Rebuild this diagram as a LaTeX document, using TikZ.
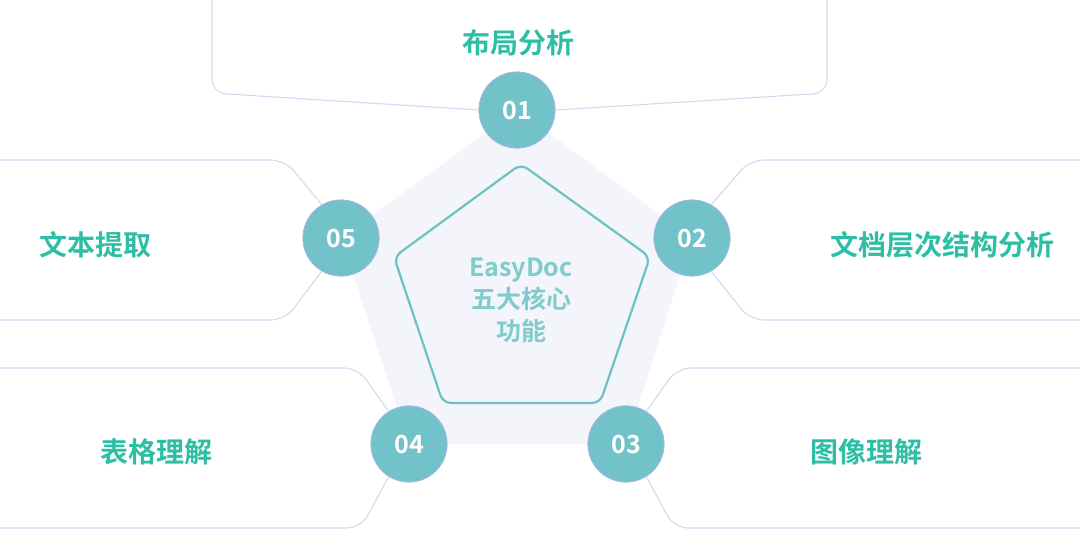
\documentclass[tikz,border=0pt]{standalone}
\usepackage{fontspec}
\setmainfont{Noto Sans CJK SC}[BoldFont={Noto Sans CJK SC Bold}]
\begin{document}
\begin{tikzpicture}[x=1pt,y=-1pt,
  box/.style={draw=lineC,line width=1.1pt,rounded corners=14pt},
  num/.style={circle,fill=numC,draw=numB,line width=0.8pt,minimum size=76pt,inner sep=0pt,text=white,font=\bfseries\fontsize{25}{25}\selectfont},
  lab/.style={text=labC,font=\bfseries\fontsize{28}{30}\selectfont}]
\definecolor{lineC}{HTML}{D8D6F0}
\definecolor{numC}{HTML}{72C2C9}
\definecolor{numB}{HTML}{A4B8E4}
\definecolor{labC}{HTML}{2DBFA5}
\definecolor{bgC}{HTML}{F4F4FB}
\definecolor{penC}{HTML}{6CC3C0}
\definecolor{midC}{HTML}{80CCCC}
\useasboundingbox (0,0) rectangle (1080,544);
\fill[bgC] (517,110) -- (692,238) -- (626,444) -- (409,444) -- (341,238) -- cycle;
\draw[penC,line width=2.2pt,rounded corners=8pt] (521,164) -- (650,257) -- (600,403) -- (443,403) -- (394,257) -- cycle;
\node[text=midC,font=\bfseries\fontsize{25}{32}\selectfont,align=center] (mid) at (521,300) {EasyDoc\\五大核心\\功能};
\node[num] (n1) at (517,110) {01};
\node[num] (n2) at (692,238) {02};
\node[num] (n3) at (626,444) {03};
\node[num] (n4) at (409,444) {04};
\node[num] (n5) at (341,238) {05};
\coordinate (t1) at (212,0); \coordinate (t2) at (827,0);
\draw[box] (t1) -- (212,93) -- (n1.west);
\draw[box] (t2) -- (827,93) -- (n1.east);
\coordinate (r2a) at (1080,160); \coordinate (r2b) at (1080,320);
\draw[box] (n2.60) -- (750,160) -- (r2a);
\draw[box] (n2.-60) -- (750,320) -- (r2b);
\coordinate (r3a) at (1080,368); \coordinate (r3b) at (1080,528);
\draw[box] (n3.58) -- (677,368) -- (r3a);
\draw[box] (n3.-58) -- (674,528) -- (r3b);
\coordinate (l5a) at (0,160); \coordinate (l5b) at (0,320);
\draw[box] (n5.120) -- (285,160) -- (l5a);
\draw[box] (n5.-120) -- (285,320) -- (l5b);
\coordinate (l4a) at (0,368); \coordinate (l4b) at (0,528);
\draw[box] (n4.122) -- (358,368) -- (l4a);
\draw[box] (n4.-122) -- (361,528) -- (l4b);
\node[num] at (n1) {01};
\node[num] at (n2) {02};
\node[num] at (n3) {03};
\node[num] at (n4) {04};
\node[num] at (n5) {05};
\node[lab] (a1) at (518,43) {布局分析};
\node[lab] (a2) at (942,245) {文档层次结构分析};
\node[lab] (a3) at (866,452) {图像理解};
\node[lab] (a4) at (156,452) {表格理解};
\node[lab] (a5) at (95,245) {文本提取};
\end{tikzpicture}
\end{document}
